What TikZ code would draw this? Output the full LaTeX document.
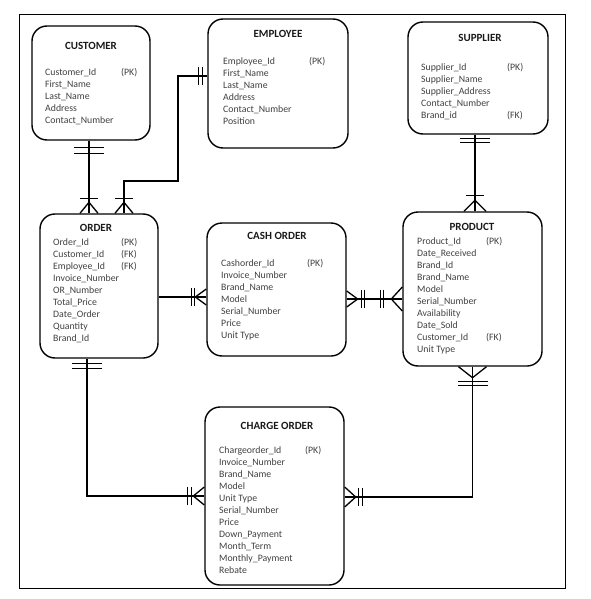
\documentclass[tikz,border=0pt]{standalone}
\usepackage{fontspec}
\setmainfont{Carlito}
\usepackage{array}
\usepackage{tikz}

\tikzset{
  entity/.style={draw, line width=1.4pt, rounded corners=15pt, inner sep=0pt},
  title/.style={font=\fontsize{11}{13}\selectfont\bfseries, text=black!90, inner sep=0pt},
  attrs/.style={anchor=north west, inner sep=0pt, font=\fontsize{9.8}{12}\selectfont, text=black!75},
  link/.style={line width=1.3pt},
  crowfoot/.pic={\draw[link] (0,-#1) -- (11,0) -- (0,#1);},
  bar/.pic={\draw[link] (#1,-9) -- (#1,9);},
  widebar/.pic={\draw[link] (#1,-15) -- (#1,15);}
}

\begin{document}
\begin{tikzpicture}[x=1pt, y=-1pt]
\useasboundingbox (0,0) rectangle (590,599);
\draw[line width=0.8pt] (19,14) rectangle (565,588);

% entities
\node[entity, minimum width=118pt, minimum height=114pt] (customer) at (91,83) {};
\node[entity, minimum width=140pt, minimum height=129pt] (employee) at (278,83.5) {};
\node[entity, minimum width=140pt, minimum height=112pt] (supplier) at (478,78) {};
\node[entity, minimum width=118pt, minimum height=144pt] (order) at (99,286) {};
\node[entity, minimum width=139pt, minimum height=133pt] (cash) at (276.5,289.5) {};
\node[entity, minimum width=139pt, minimum height=154pt] (product) at (472.5,289) {};
\node[entity, minimum width=139pt, minimum height=178pt] (charge) at (274.5,496) {};

% titles
\node[title] (cutitle) at (91,46) {CUSTOMER};
\node[title] (emtitle) at (278,34) {EMPLOYEE};
\node[title] (sutitle) at (480,38) {SUPPLIER};
\node[title] (ortitle) at (96,228) {ORDER};
\node[title] (catitle) at (277,236) {CASH ORDER};
\node[title] (prtitle) at (472,227) {PRODUCT};
\node[title] (chtitle) at (277,426) {CHARGE ORDER};

% attributes
\node[attrs] (cuattr) at (45,66.6) {\begin{tabular}{@{}w{l}{76pt}@{}l@{}}
Customer\_Id & (PK)\\ First\_Name & \\ Last\_Name & \\ Address & \\ Contact\_Number &
\end{tabular}};
\node[attrs] (emattr) at (223,55.6) {\begin{tabular}{@{}w{l}{86pt}@{}l@{}}
Employee\_Id & (PK)\\ First\_Name & \\ Last\_Name & \\ Address & \\ Contact\_Number & \\ Position &
\end{tabular}};
\node[attrs] (suattr) at (421,61.6) {\begin{tabular}{@{}w{l}{86pt}@{}l@{}}
Supplier\_Id & (PK)\\ Supplier\_Name & \\ Supplier\_Address & \\ Contact\_Number & \\ Brand\_id & (FK)
\end{tabular}};
\node[attrs] (orattr) at (53,236.6) {\begin{tabular}{@{}w{l}{68pt}@{}l@{}}
Order\_Id & (PK)\\ Customer\_Id & (FK)\\ Employee\_Id & (FK)\\ Invoice\_Number & \\ OR\_Number & \\
Total\_Price & \\ Date\_Order & \\ Quantity & \\ Brand\_Id &
\end{tabular}};
\node[attrs] (caattr) at (221,257.6) {\begin{tabular}{@{}w{l}{86pt}@{}l@{}}
Cashorder\_Id & (PK)\\ Invoice\_Number & \\ Brand\_Name & \\ Model & \\ Serial\_Number & \\ Price & \\ Unit Type &
\end{tabular}};
\node[attrs] (prattr) at (417,235.6) {\begin{tabular}{@{}w{l}{69pt}@{}l@{}}
Product\_Id & (PK)\\ Date\_Received & \\ Brand\_Id & \\ Brand\_Name & \\ Model & \\ Serial\_Number & \\
Availability & \\ Date\_Sold & \\ Customer\_Id & (FK)\\ Unit Type &
\end{tabular}};
\node[attrs] (chattr) at (219,444.6) {\begin{tabular}{@{}w{l}{86pt}@{}l@{}}
Chargeorder\_Id & (PK)\\ Invoice\_Number & \\ Brand\_Name & \\ Model & \\ Unit Type & \\ Serial\_Number & \\
Price & \\ Down\_Payment & \\ Month\_Term & \\ Monthly\_Payment & \\ Rebate &
\end{tabular}};

% customer - order
\draw[link] ([xshift=-2]customer.south) -- ([xshift=-2]customer.south |- order.north);
\pic[rotate=-90] at ([xshift=-2]customer.south) {widebar=7};
\pic[rotate=-90] at ([xshift=-2]customer.south) {widebar=13};
\pic[rotate=90] at ([xshift=-10]order.north) {crowfoot=9};
\pic[rotate=90] at ([xshift=-10]order.north) {bar=15};

% employee - order
\coordinate (embend) at (178,181);
\draw[link] ([yshift=7.5]employee.west) -| (embend) -| ([xshift=25]order.north);
\pic[rotate=180] at ([yshift=7.5]employee.west) {bar=5};
\pic[rotate=180] at ([yshift=7.5]employee.west) {bar=9};
\pic[rotate=90] at ([xshift=25]order.north) {crowfoot=9};
\pic[rotate=90] at ([xshift=25]order.north) {bar=15};

% supplier - product
\draw[link] ([xshift=-3]supplier.south) -- ([xshift=-3]supplier.south |- product.north);
\pic[rotate=-90] at ([xshift=-3]supplier.south) {widebar=4};
\pic[rotate=-90] at ([xshift=-3]supplier.south) {widebar=8};
\pic[rotate=90] at ([xshift=-3]supplier.south |- product.north) {crowfoot=11};
\pic[rotate=90] at ([xshift=-3]supplier.south |- product.north) {bar=16};

% order - cash order
\draw[link] ([yshift=-11]order.east) -- ([yshift=-11]order.east -| cash.west);
\pic[rotate=180] at ([yshift=-11]order.east -| cash.west) {crowfoot=8};
\pic[rotate=180] at ([yshift=-11]order.east -| cash.west) {bar=12};
\pic[rotate=180] at ([yshift=-11]order.east -| cash.west) {bar=15};

% cash order - product
\draw[link] ([yshift=-9.5]cash.east) -- ([yshift=-9.5]cash.east -| product.west);
\pic at ([yshift=-9.5]cash.east) {crowfoot=8};
\pic at ([yshift=-9.5]cash.east) {bar=15};
\pic at ([yshift=-9.5]cash.east) {bar=18};
\pic[rotate=180] at ([yshift=-9.5]cash.east -| product.west) {crowfoot=12};
\pic[rotate=180] at ([yshift=-9.5]cash.east -| product.west) {bar=19};
\pic[rotate=180] at ([yshift=-9.5]cash.east -| product.west) {bar=22};

% order - charge order
\draw[link] ([xshift=-12]order.south) |- (charge.west);
\pic[rotate=-90] at ([xshift=-12]order.south) {widebar=5};
\pic[rotate=-90] at ([xshift=-12]order.south) {widebar=10};
\pic[rotate=180] at (charge.west) {crowfoot=9};
\pic[rotate=180] at (charge.west) {bar=13};
\pic[rotate=180] at (charge.west) {bar=17};

% product - charge order
\draw[link] (product.south) |- ([yshift=-1]charge.east);
\pic[rotate=-90] at (product.south) {crowfoot=14};
\pic[rotate=-90] at (product.south) {widebar=15};
\pic[rotate=-90] at (product.south) {widebar=19};
\pic at ([yshift=-1]charge.east) {crowfoot=10};
\pic at ([yshift=-1]charge.east) {bar=14};
\pic at ([yshift=-1]charge.east) {bar=18};
\end{tikzpicture}
\end{document}
